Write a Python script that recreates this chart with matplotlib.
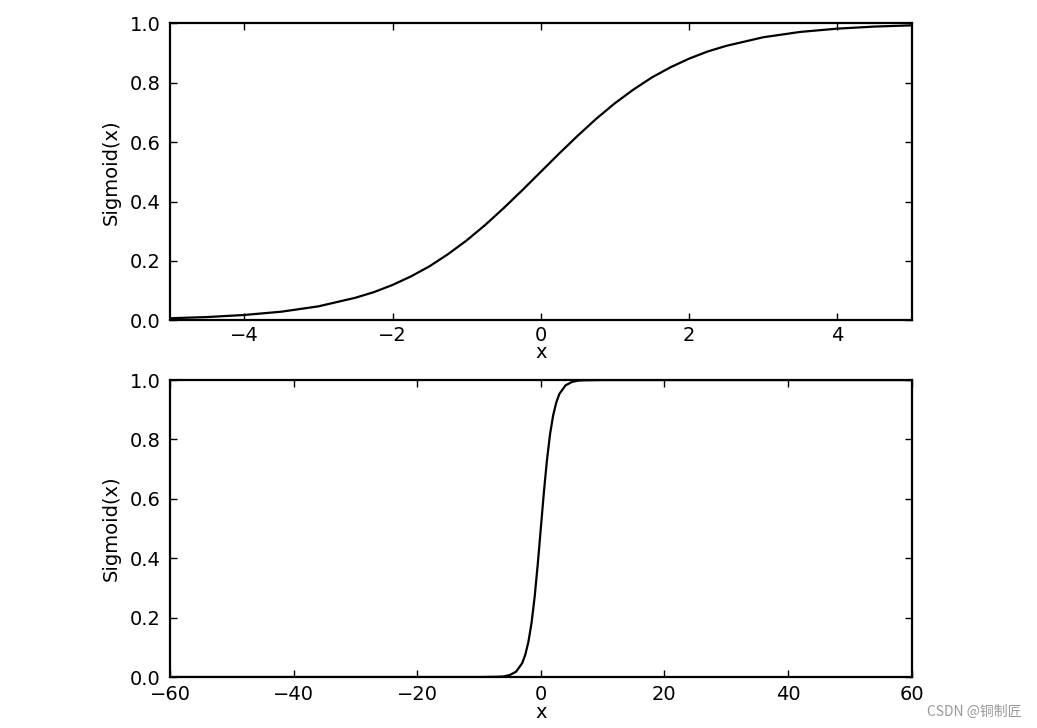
import matplotlib
matplotlib.use("Agg")
import matplotlib.pyplot as plt

# values
x_narrow = [-5.0, -4.5, -4.0, -3.5, -3.0, -2.5, -2.25, -2.0, -1.75, -1.5, -1.25, -1.0,
            -0.75, -0.5, -0.25, 0.0, 0.25, 0.5, 0.75, 1.0, 1.25, 1.5, 1.75,
            2.0, 2.25, 2.5, 3.0, 3.5, 4.0, 4.5, 5.0]
y_narrow = [0.007, 0.011, 0.018, 0.029, 0.047, 0.076, 0.095, 0.119, 0.148, 0.182,
            0.223, 0.269, 0.321, 0.378, 0.438, 0.500, 0.562, 0.622, 0.679, 0.731,
            0.777, 0.818, 0.852, 0.881, 0.905, 0.924, 0.953, 0.971, 0.982, 0.989,
            0.993]

x_wide = [-60, -20, -10, -7, -6, -5, -4, -3, -2.5, -2, -1.5, -1, -0.5, 0,
          0.5, 1, 1.5, 2, 2.5, 3, 4, 5, 6, 7, 10, 20, 60]
y_wide = [0.0, 0.0, 0.0, 0.001, 0.002, 0.007, 0.018, 0.047, 0.076, 0.119, 0.182,
          0.269, 0.378, 0.500, 0.622, 0.731, 0.818, 0.881, 0.924, 0.953, 0.982,
          0.993, 0.998, 0.999, 1.0, 1.0, 1.0]

narrow_ticks = [-4, -2, 0, 2, 4]
wide_ticks = [-60, -40, -20, 0, 20, 40, 60]
y_ticks = [0.0, 0.2, 0.4, 0.6, 0.8, 1.0]

plt.rcParams.update({
    "font.size": 14,
    "xtick.direction": "in",
    "ytick.direction": "in",
    "xtick.top": True,
    "ytick.right": True,
    "xtick.major.size": 5,
    "ytick.major.size": 5,
    "axes.linewidth": 1.6,
})

fig = plt.figure(figsize=(10.37, 7.28), dpi=100)
ax1 = fig.add_axes([0.164, 0.560, 0.715, 0.408])
ax2 = fig.add_axes([0.164, 0.070, 0.715, 0.408])

for ax, xs, ys, xlim, ticks, xpad in [
    (ax1, x_narrow, y_narrow, (-5, 5), narrow_ticks, 4),
    (ax2, x_wide, y_wide, (-60, 60), wide_ticks, 6),
]:
    ax.plot(xs, ys, color="black", linewidth=1.6)
    ax.set_xlim(*xlim)
    ax.set_ylim(0, 1)
    ax.set_xticks(ticks)
    ax.set_xticklabels([f"{t:d}".replace("-", "\u2212") for t in ticks])
    ax.set_yticks(y_ticks)
    ax.set_yticklabels([f"{t:.1f}" for t in y_ticks])
    ax.tick_params(axis="x", pad=xpad, width=1)
    ax.tick_params(axis="y", pad=7, width=1)
    ax.set_xlabel("x", labelpad=-1)
    ax.set_ylabel("Sigmoid(x)", labelpad=6)

fig.text(0.985, 0.012, "CSDN @铜制匠", ha="right", va="bottom", fontsize=10,
         color="#999999", family=["Noto Sans CJK SC", "DejaVu Sans"])

fig.savefig("out.png", dpi=100)
